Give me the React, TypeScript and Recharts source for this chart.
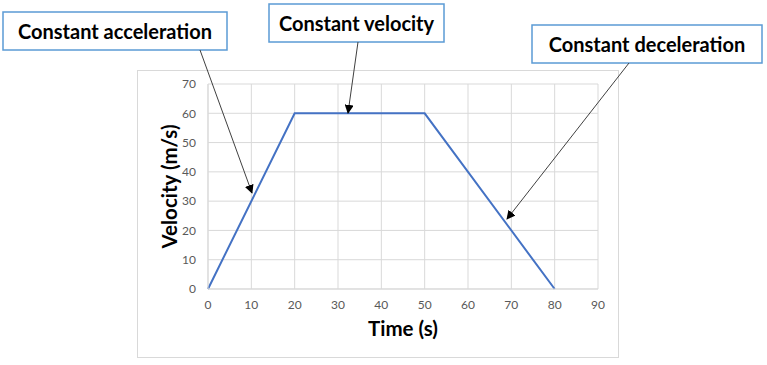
import { LineChart, Line, XAxis, YAxis, CartesianGrid, Label } from 'recharts'

const timeSeconds = [0, 20, 50, 80]
const velocityMs = [0, 60, 60, 0]
const xTicks = [0, 10, 20, 30, 40, 50, 60, 70, 80, 90]
const yTicks = [0, 10, 20, 30, 40, 50, 60, 70]

const data = timeSeconds.map((t, i) => ({ t, v: velocityMs[i] }))

// callout boxes + arrows laid over the chart (page pixels)
const callouts = [
  { text: 'Constant acceleration', box: [3, 12, 224, 38], from: [200, 50], to: [252, 193] },
  { text: 'Constant velocity', box: [269, 4, 175, 38], from: [358, 42], to: [348, 113] },
  { text: 'Constant deceleration', box: [532, 25, 230, 38], from: [629, 63], to: [507, 219] },
]

const FONT = 'Lato, "Open Sans", sans-serif'
const tickStyle = { fill: '#595959', fontSize: 12, fontFamily: FONT }

export default function App() {
  return (
    <div style={{ position: 'absolute', left: 0, top: 0, width: 767, height: 365, background: '#fff' }}>
      {/* chart area frame */}
      <div
        style={{
          position: 'absolute',
          left: 137,
          top: 70,
          width: 482,
          height: 288,
          border: '1px solid #d9d9d9',
          boxSizing: 'border-box',
        }}
      />
      <div style={{ position: 'absolute', left: 0, top: 0 }}>
        <LineChart width={767} height={365} data={data} margin={{ top: 84, right: 169, bottom: 46, left: 168 }}>
          <CartesianGrid stroke="#d9d9d9" horizontalValues={yTicks} verticalValues={xTicks} />
          <XAxis
            dataKey="t"
            type="number"
            domain={[0, 90]}
            ticks={xTicks}
            interval={0}
            tick={tickStyle}
            tickLine={false}
            tickMargin={5}
            axisLine={{ stroke: '#d9d9d9' }}
            height={30}
          >
            <Label
              value="Time (s)"
              position="insideBottom"
              offset={-17}
              style={{ fill: '#000', fontSize: 20.5, fontWeight: 700, fontFamily: FONT }}
            />
          </XAxis>
          <YAxis
            type="number"
            domain={[0, 70]}
            ticks={yTicks}
            interval={0}
            tick={tickStyle}
            tickLine={false}
            tickMargin={6}
            axisLine={{ stroke: '#d9d9d9' }}
            width={40}
          >
            <Label
              value="Velocity (m/s)"
              angle={-90}
              position="insideLeft"
              offset={2}
              style={{ fill: '#000', fontSize: 20.5, fontWeight: 700, fontFamily: FONT, textAnchor: 'middle' }}
            />
          </YAxis>
          <Line dataKey="v" stroke="#4472c4" strokeWidth={2} dot={false} isAnimationActive={false} />
        </LineChart>
      </div>
      <svg width={767} height={365} style={{ position: 'absolute', left: 0, top: 0, pointerEvents: 'none' }}>
        <defs>
          <marker id="head" viewBox="0 0 10 10" refX="9" refY="5" markerWidth="9" markerHeight="9" orient="auto">
            <path d="M0,0 L10,5 L0,10 z" fill="#000" />
          </marker>
        </defs>
        {callouts.map((c) => (
          <g key={c.text}>
            <rect x={c.box[0]} y={c.box[1]} width={c.box[2]} height={c.box[3]} fill="#fff" stroke="#5b9bd5" strokeWidth={1.5} />
            <text
              x={c.box[0] + c.box[2] / 2}
              y={c.box[1] + c.box[3] / 2}
              textAnchor="middle"
              dominantBaseline="central"
              style={{ fontSize: 20, fontWeight: 700, fontFamily: FONT, fill: '#000' }}
            >
              {c.text}
            </text>
            <line x1={c.from[0]} y1={c.from[1]} x2={c.to[0]} y2={c.to[1]} stroke="#404040" strokeWidth={1} markerEnd="url(#head)" />
          </g>
        ))}
      </svg>
    </div>
  )
}
